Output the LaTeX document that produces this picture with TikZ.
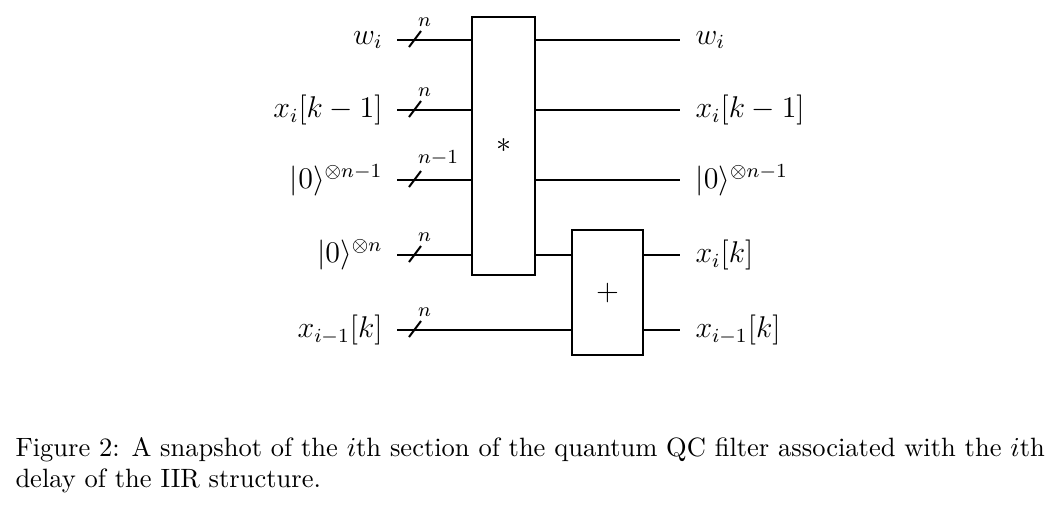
\documentclass[tikz,border=0pt]{standalone}
\usetikzlibrary{positioning}
\begin{document}
\begin{tikzpicture}
          [x=0.4pt, y=-0.4pt, font=\large,
          % STYLES
          % wire labels on both sides
          inlabel/.style={anchor=east, inner sep=0pt},
          outlabel/.style={anchor=west, inner sep=0pt},
          % the gates
          gate/.style={rectangle, draw, thick, inner sep=0pt},
          % width of a bundle
          bundle/.style={font=\footnotesize, anchor=south west, inner sep=1pt},
          wire/.style={thick}]

          \useasboundingbox (0,0) rectangle (1060,508);

          % Draw gates
          \node [gate, minimum width=25.2pt, minimum height=103.2pt] (mult) at (503.5,146) {$*$};
          \node [gate, minimum width=28.4pt, minimum height=50pt] (add) at (607.5,292.5) {$+$};

          % wires
          \foreach \y/\name/\lbl/\w in {40/w/{w_i}/n, 110/xk/{x_i[k-1]}/n, 180/z/{|0\rangle^{\otimes n-1}}/{n{-}1}, 255/zn/{|0\rangle^{\otimes n}}/n, 330/xp/{x_{i-1}[k]}/n} {
            \node [inlabel] (in-\name) at (383,\y) {$\lbl$};
            \coordinate (s-\name) at (397,\y);
            \draw [wire] (409,\y+7) -- (421,\y-9);
            \node [bundle] (b-\name) at (415,\y-11) {$\w$};
          }
          \foreach \y/\name/\lbl in {40/w/{w_i}, 110/xk/{x_i[k-1]}, 180/z/{|0\rangle^{\otimes n-1}}, 255/zn/{x_i[k]}, 330/xp/{x_{i-1}[k]}} {
            \node [outlabel] (out-\name) at (695,\y) {$\lbl$};
            \coordinate (e-\name) at (680,\y);
          }

          % Draw the links
          \draw [wire] (s-w) -- (s-w -| mult.west);
          \draw [wire] (s-xk) -- (s-xk -| mult.west);
          \draw [wire] (s-z) -- (s-z -| mult.west);
          \draw [wire] (s-zn) -- (s-zn -| mult.west);
          \draw [wire] (s-xp) -- (s-xp -| add.west);
          \draw [wire] (e-w -| mult.east) -- (e-w);
          \draw [wire] (e-xk -| mult.east) -- (e-xk);
          \draw [wire] (e-z -| mult.east) -- (e-z);
          \draw [wire] (e-zn -| mult.east) -- (e-zn -| add.west);
          \draw [wire] (e-zn -| add.east) -- (e-zn);
          \draw [wire] (e-xp -| add.east) -- (e-xp);

          % caption
          \node [anchor=north west, align=left, font=\fontsize{10.6}{12.4}\selectfont, inner sep=0pt] (caption) at (15,437)
            {Figure 2: A snapshot of the $i$th section of the quantum QC filter associated with the $i$th\\delay of the IIR structure.};
\end{tikzpicture}
\end{document}
